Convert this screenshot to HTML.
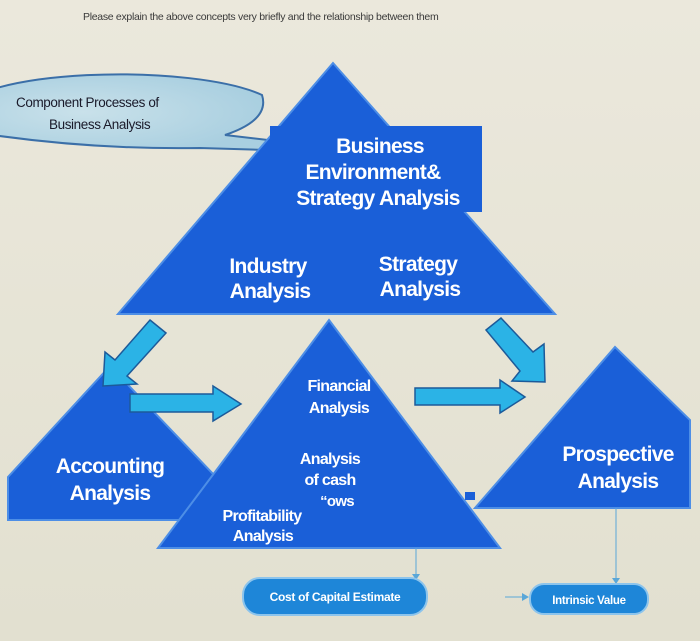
<!DOCTYPE html>
<html><head><meta charset="utf-8"><style>
html,body{margin:0;padding:0;background:#e8e5d6;}
svg{display:block;}
text{font-family:"Liberation Sans",Arial,sans-serif;}
.b{letter-spacing:-0.7px;}
</style></head><body>
<svg width="700" height="641" viewBox="0 0 700 641" xmlns="http://www.w3.org/2000/svg">
<defs>
<linearGradient id="bg" x1="0" y1="0" x2="0" y2="1"><stop offset="0" stop-color="#ebe8dc"/><stop offset="1" stop-color="#e2e0d0"/></linearGradient>
<radialGradient id="ell" cx="0.4" cy="0.5" r="0.6"><stop offset="0" stop-color="#c9e1ea"/><stop offset="1" stop-color="#a9cfe0"/></radialGradient>
</defs>
<rect width="700" height="641" fill="url(#bg)"/>
<text x="83" y="20" font-size="10.5" fill="#3a3a3a" letter-spacing="-0.3">Please explain the above concepts very briefly and the relationship between them</text>

<!-- callout -->
<path d="M -40 110 A 160 38 0 0 1 262 95 Q 270 120 225 135 L 268 140 L 268 150 L 200 148 Q 80 150 -40 130 Z" fill="url(#ell)" stroke="#3b6fa8" stroke-width="2"/>
<text x="16" y="107" font-size="13.5" fill="#1a1a2a" letter-spacing="-0.4">Component Processes of</text>
<text x="49" y="129" font-size="13.5" fill="#1a1a2a" letter-spacing="-0.4">Business Analysis</text>

<!-- top triangle -->
<polygon points="333,63 555,314 118,314" fill="#1a5fd8" stroke="#4d8ee6" stroke-width="2"/>
<rect x="270" y="126" width="212" height="86" fill="#1a5fd8"/>
<g class="b" font-size="21" font-weight="bold" fill="#fff" text-anchor="middle">
<text x="380" y="153">Business</text>
<text x="373" y="179">Environment&amp;</text>
<text x="378" y="205">Strategy Analysis</text>
<text x="268" y="273">Industry</text>
<text x="270" y="298">Analysis</text>
<text x="418" y="271">Strategy</text>
<text x="420" y="296">Analysis</text>
</g>

<!-- left triangle -->
<polygon points="110,366 8,477 8,520 240,520 215,476" fill="#1a5fd8" stroke="#4d8ee6" stroke-width="2"/>
<g class="b" font-size="21" font-weight="bold" fill="#fff" text-anchor="middle">
<text x="110" y="473">Accounting</text>
<text x="110" y="500">Analysis</text>
</g>

<!-- right triangle -->
<polygon points="615,347 690,420 690,508 475,508" fill="#1a5fd8" stroke="#4d8ee6" stroke-width="2"/>
<g class="b" font-size="21" font-weight="bold" fill="#fff" text-anchor="middle">
<text x="618" y="461">Prospective</text>
<text x="618" y="488">Analysis</text>
</g>

<!-- center triangle -->
<polygon points="329,320 500,548 158,548" fill="#1a5fd8" stroke="#4d8ee6" stroke-width="2"/>
<rect x="465" y="492" width="10" height="8" fill="#1a5fd8"/>
<g class="b" font-size="16" font-weight="bold" fill="#fff" text-anchor="middle">
<text x="339" y="391">Financial</text>
<text x="339" y="413">Analysis</text>
<text x="330" y="464">Analysis</text>
<text x="330" y="485">of cash</text>
<text x="337" y="506" font-size="15">“ows</text>
<text x="262" y="521">Profitability</text>
<text x="263" y="541">Analysis</text>
</g>

<!-- arrows -->
<g fill="#2bb3e6" stroke="#1c5a9a" stroke-width="1.5">
<polygon points="150,320 166,333 127,376 137,384 103,386 105,352 115,360"/>
<polygon points="130,394 213,394 213,386 241,404 213,421 213,412 130,412"/>
<polygon points="415,388 500,388 500,380 525,397 500,413 500,405 415,405"/>
<polygon points="486,330 501,318 533,352 544,344 545,382 512,381 520,371"/>
</g>

<!-- connectors -->
<g stroke="#5aa7d8" stroke-width="1" fill="none">
<line x1="416" y1="548" x2="416" y2="578"/>
<line x1="616" y1="508" x2="616" y2="582"/>
<line x1="505" y1="597" x2="526" y2="597"/>
</g>
<g fill="#5aa7d8">
<polygon points="412,574 420,574 416,580"/>
<polygon points="612,578 620,578 616,584"/>
<polygon points="522,593 522,601 529,597"/>
</g>

<!-- pills -->
<rect x="243" y="578" width="184" height="37" rx="17" fill="#1e86d8" stroke="#8cc4ec" stroke-width="2"/>
<text x="335" y="601" font-size="12" font-weight="bold" fill="#fff" text-anchor="middle" letter-spacing="-0.3">Cost of Capital Estimate</text>
<rect x="530" y="584" width="118" height="30" rx="14" fill="#1e86d8" stroke="#8cc4ec" stroke-width="2"/>
<text x="589" y="604" font-size="11.5" font-weight="bold" fill="#fff" text-anchor="middle" letter-spacing="-0.3">Intrinsic Value</text>
</svg>
</body></html>
